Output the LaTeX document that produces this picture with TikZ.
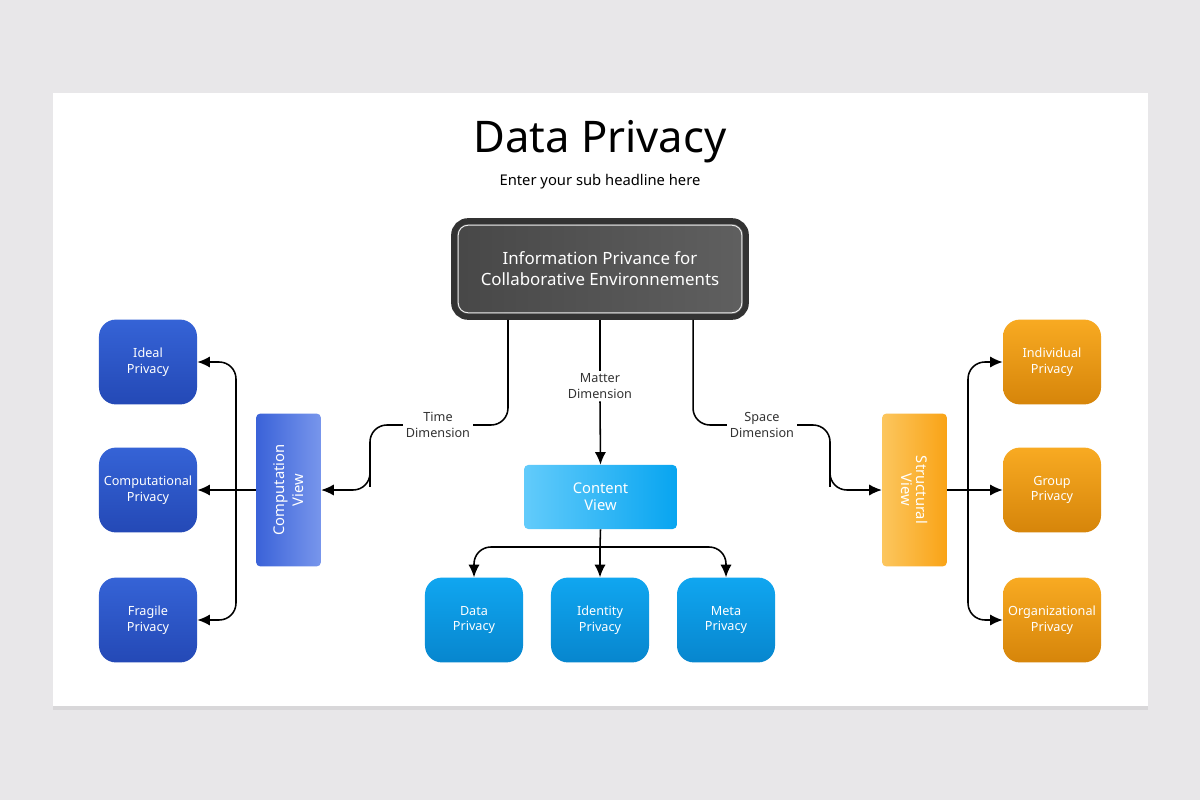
\documentclass[tikz,border=0pt]{standalone}
\usepackage{fontspec}
\setmainfont{Noto Sans}
\usetikzlibrary{positioning,shadows,arrows.meta}
\definecolor{pagegray}{HTML}{E8E7E9}
\definecolor{darkbox}{HTML}{333333}
\definecolor{blueA}{HTML}{3563D6}
\definecolor{blueB}{HTML}{2449B6}
\definecolor{viewA}{HTML}{7896EC}
\definecolor{viewB}{HTML}{3A62D8}
\definecolor{skyA}{HTML}{62CBFB}
\definecolor{skyB}{HTML}{08A5F0}
\definecolor{cyanA}{HTML}{10A6F0}
\definecolor{cyanB}{HTML}{0786CE}
\definecolor{orA}{HTML}{F8AA22}
\definecolor{orB}{HTML}{D6850A}
\definecolor{yelA}{HTML}{FCC65E}
\definecolor{yelB}{HTML}{F9A316}

\tikzset{%
  % boxes
  leaf/.style = {rectangle, rounded corners=12pt, minimum width=2.45cm, minimum height=2.12cm, align=center, text=white, font=\fontsize{9}{11}\selectfont, inner sep=2pt},
  blueleaf/.style = {leaf, top color=blueA, bottom color=blueB},
  cyanleaf/.style = {leaf, top color=cyanA, bottom color=cyanB},
  orangeleaf/.style = {leaf, top color=orA, bottom color=orB},
  view/.style = {rectangle, rounded corners=3pt, minimum width=1.62cm, minimum height=3.82cm, text=white, font=\bfseries\fontsize{10.5}{12}\selectfont, align=center},
  dimlabel/.style = {align=center, font=\bfseries\fontsize{9}{11}\selectfont, text=black!80, inner sep=2pt},
  conn/.style = {line width=1.1pt, black, rounded corners=12pt},
  arr/.style = {conn, -{Latex[length=9pt,width=8pt]}},
}

\begin{document}
\begin{tikzpicture}[x=0.025cm, y=-0.025cm]
    % background and card
    \fill[pagegray] (0,0) rectangle (1200,800);
    \useasboundingbox (0,0) rectangle (1200,800);
    \fill[white, drop shadow={opacity=0.15, shadow xshift=0pt, shadow yshift=-3pt}] (53,93) rectangle (1148,706);

    % heading
    \node (title) at (600,142) {\fontsize{31}{36}\selectfont Data Privacy};
    \node (sub)   at (600,182) {\fontsize{10.5}{12}\selectfont Enter your sub headline here};

    % main box
    \node (top) [rectangle, rounded corners=10pt, minimum width=7.3cm, minimum height=2.4cm, left color=darkbox!90, right color=gray!75!black, draw=darkbox, line width=4pt, text=white, font=\bfseries\fontsize{12}{15}\selectfont, align=center] at (600,269) {Information Privance for\\Collaborative Environnements};
    \draw[white!85!gray, line width=0.7pt, rounded corners=7pt] ([shift={(5pt,-5pt)}]top.north west) rectangle ([shift={(-5pt,5pt)}]top.south east);

    % dimension labels
    \node (time)   [dimlabel] at (438,425) {Time\\Dimension};
    \node (matter) [dimlabel] at (600,386) {Matter\\Dimension};
    \node (space)  [dimlabel] at (762,425) {Space\\Dimension};

    % views
    \node (comp)    [view, left color=viewB, right color=viewA] at (288.5,490) {\rotatebox{90}{\shortstack{Computation\\View}}};
    \node (content) [view, minimum width=3.82cm, minimum height=1.6cm, left color=skyA, right color=skyB] at (600.5,497) {Content\\View};
    \node (struct)  [view, left color=yelA, right color=yelB] at (914.5,490) {\rotatebox{-90}{\shortstack{Structural\\View}}};

    % leaves
    \node (ideal)  [blueleaf] at (148,362) {Ideal\\Privacy};
    \node (compu)  [blueleaf] at (148,490) {Computational\\Privacy};
    \node (frag)   [blueleaf] at (148,620) {Fragile\\Privacy};
    \node (data)   [cyanleaf] at (474,620) {Data\\Privacy};
    \node (ident)  [cyanleaf] at (600,620) {Identity\\Privacy};
    \node (meta)   [cyanleaf] at (726,620) {Meta\\Privacy};
    \node (indiv)  [orangeleaf] at (1052,362) {Individual\\Privacy};
    \node (group)  [orangeleaf] at (1052,490) {Group\\Privacy};
    \node (organ)  [orangeleaf] at (1052,620) {Organizational\\Privacy};

    % top box to dimensions
    \draw[conn] ([xshift=-2.3cm]top.south) |- (time.east);
    \draw[conn] (top.south) -- (matter.north);
    \draw[conn] ([xshift=2.325cm]top.south) |- (space.west);

    % dimensions to views
    \draw[arr] (time.west) -| (370,470) |- (comp.east);
    \draw[arr] (matter.south) -- (content.north);
    \draw[arr] (space.east) -| (830,470) |- (struct.west);

    % computation view to leaves
    \draw[arr] (comp.west) -- (compu.east);
    \draw[arr] (236,490) |- (ideal.east);
    \draw[arr] (236,490) |- (frag.east);

    % content view to leaves
    \draw[conn] (content.south) -- (600,547);
    \draw[arr] (600,547) -| (data.north);
    \draw[arr] (600,547) -- (ident.north);
    \draw[arr] (600,547) -| (meta.north);

    % structural view to leaves
    \draw[arr] (struct.east) -- (group.west);
    \draw[arr] (968,490) |- (indiv.west);
    \draw[arr] (968,490) |- (organ.west);
\end{tikzpicture}
\end{document}
